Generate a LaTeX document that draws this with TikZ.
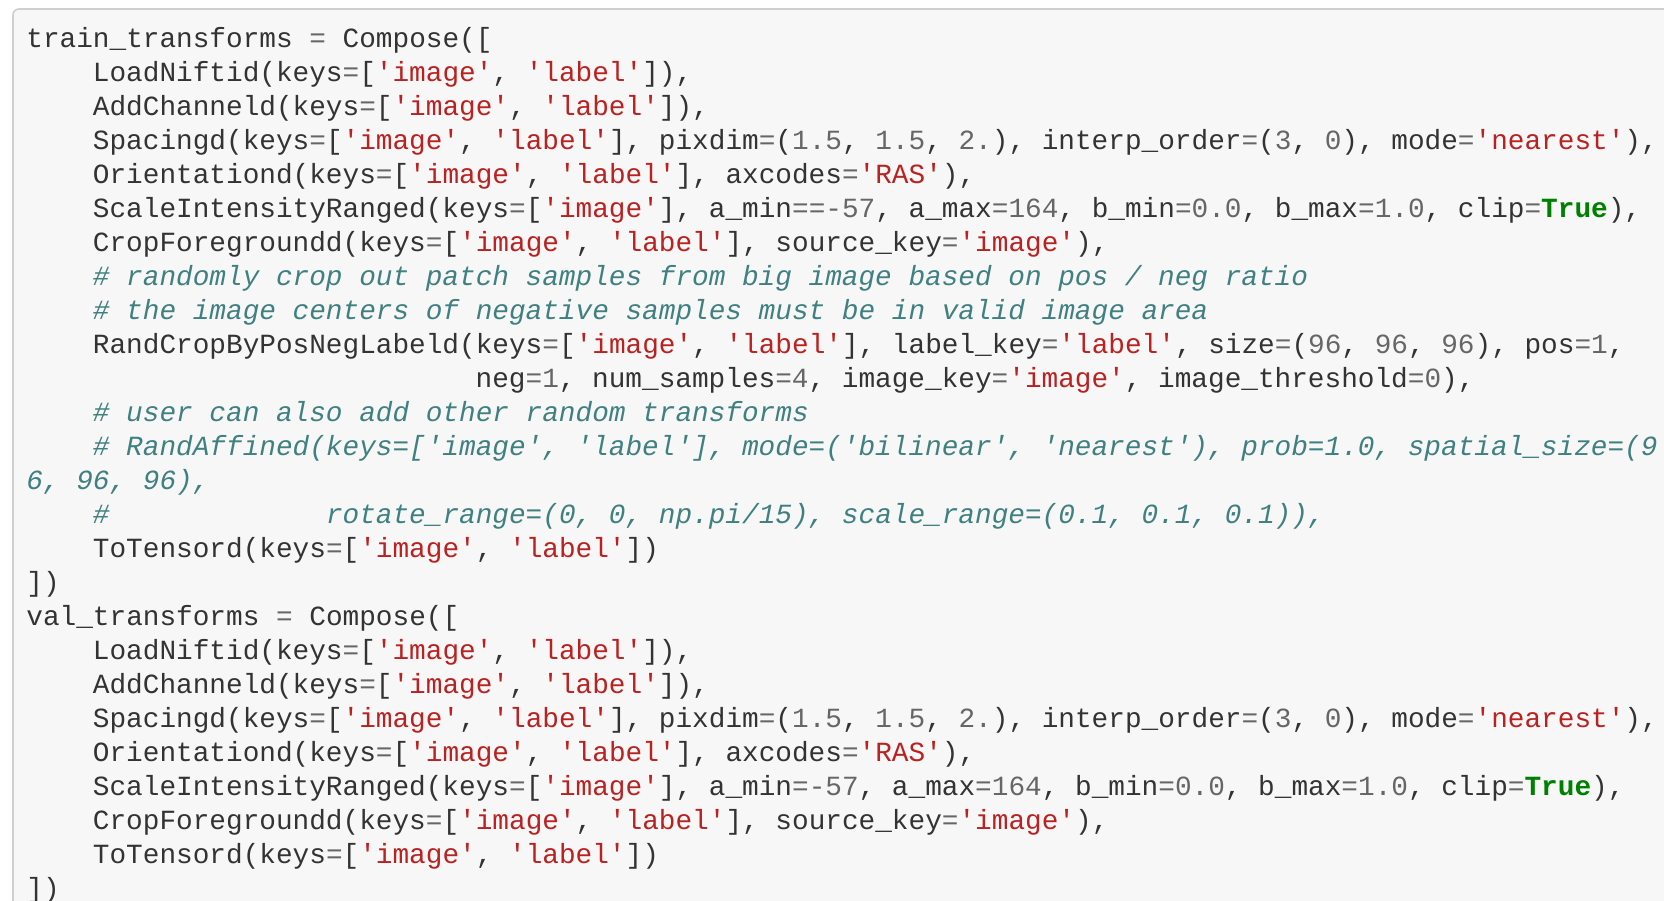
\documentclass[tikz,border=0pt]{standalone}
\usepackage{fontspec}
\setmonofont{Liberation Mono}
\definecolor{bgc}{HTML}{F7F7F7}
\definecolor{brd}{HTML}{CFCFCF}
\definecolor{txt}{HTML}{333333}
\definecolor{str}{HTML}{BA2121}
\definecolor{num}{HTML}{666666}
\definecolor{cmt}{HTML}{408080}
\definecolor{kw}{HTML}{008000}
\newcommand\Sx[1]{\textcolor{str}{#1}}
\newcommand\Nx[1]{\textcolor{num}{#1}}
\newcommand\Eq{\textcolor{num}{=}}
\newcommand\Cm[1]{\textcolor{cmt}{\itshape #1}}
\newcommand\Tr{\textcolor{kw}{\bfseries True}}
\newcommand\IL{\Sx{'image'}, \Sx{'label'}}
\begin{document}
\begin{tikzpicture}[x=1pt,y=1pt,
  code/.style={anchor=base west,inner sep=0pt,text=txt,font=\ttfamily\fontsize{13.87}{17}\selectfont}]
\useasboundingbox (0,0) rectangle (832,-450);
\clip (0,0) rectangle (832,-450);
\fill[white] (0,0) rectangle (832,-450);
\draw[brd,fill=bgc,rounded corners=3pt,line width=0.8pt] (6.5,-4.5) rectangle (850,-470);
\def\cw{8.32}
\newcommand\Ln[4]{\node[code] (#1) at ({13+#2*\cw},{-23.5-17*#3}) {#4};}
\Ln{l0}{0}{0}{train\_transforms \Eq{} Compose([}
\Ln{l1}{4}{1}{LoadNiftid(keys\Eq[\IL]),}
\Ln{l2}{4}{2}{AddChanneld(keys\Eq[\IL]),}
\Ln{l3}{4}{3}{Spacingd(keys\Eq[\IL], pixdim\Eq(\Nx{1.5}, \Nx{1.5}, \Nx{2.}), interp\_order\Eq(\Nx{3}, \Nx{0}), mode\Eq\Sx{'nearest'}),}
\Ln{l4}{4}{4}{Orientationd(keys\Eq[\IL], axcodes\Eq\Sx{'RAS'}),}
\Ln{l5}{4}{5}{ScaleIntensityRanged(keys\Eq[\Sx{'image'}], a\_min\Eq\Eq{}\Nx{-57}, a\_max\Eq\Nx{164}, b\_min\Eq\Nx{0.0}, b\_max\Eq\Nx{1.0}, clip\Eq\Tr),}
\Ln{l6}{4}{6}{CropForegroundd(keys\Eq[\IL], source\_key\Eq\Sx{'image'}),}
\Ln{l7}{4}{7}{\Cm{\# randomly crop out patch samples from big image based on pos / neg ratio}}
\Ln{l8}{4}{8}{\Cm{\# the image centers of negative samples must be in valid image area}}
\Ln{l9}{4}{9}{RandCropByPosNegLabeld(keys\Eq[\IL], label\_key\Eq\Sx{'label'}, size\Eq(\Nx{96}, \Nx{96}, \Nx{96}), pos\Eq\Nx{1},}
\Ln{l10}{27}{10}{neg\Eq\Nx{1}, num\_samples\Eq\Nx{4}, image\_key\Eq\Sx{'image'}, image\_threshold\Eq\Nx{0}),}
\Ln{l11}{4}{11}{\Cm{\# user can also add other random transforms}}
\Ln{l12}{4}{12}{\Cm{\# RandAffined(keys=['image', 'label'], mode=('bilinear', 'nearest'), prob=1.0, spatial\_size=(9}}
\Ln{l13}{0}{13}{\Cm{6, 96, 96),}}
\Ln{l14}{4}{14}{\Cm{\#~~~~~~~~~~~~~rotate\_range=(0, 0, np.pi/15), scale\_range=(0.1, 0.1, 0.1)),}}
\Ln{l15}{4}{15}{ToTensord(keys\Eq[\IL])}
\Ln{l16}{0}{16}{])}
\Ln{l17}{0}{17}{val\_transforms \Eq{} Compose([}
\Ln{l18}{4}{18}{LoadNiftid(keys\Eq[\IL]),}
\Ln{l19}{4}{19}{AddChanneld(keys\Eq[\IL]),}
\Ln{l20}{4}{20}{Spacingd(keys\Eq[\IL], pixdim\Eq(\Nx{1.5}, \Nx{1.5}, \Nx{2.}), interp\_order\Eq(\Nx{3}, \Nx{0}), mode\Eq\Sx{'nearest'}),}
\Ln{l21}{4}{21}{Orientationd(keys\Eq[\IL], axcodes\Eq\Sx{'RAS'}),}
\Ln{l22}{4}{22}{ScaleIntensityRanged(keys\Eq[\Sx{'image'}], a\_min\Eq\Nx{-57}, a\_max\Eq\Nx{164}, b\_min\Eq\Nx{0.0}, b\_max\Eq\Nx{1.0}, clip\Eq\Tr),}
\Ln{l23}{4}{23}{CropForegroundd(keys\Eq[\IL], source\_key\Eq\Sx{'image'}),}
\Ln{l24}{4}{24}{ToTensord(keys\Eq[\IL])}
\Ln{l25}{0}{25}{])}
\end{tikzpicture}
\end{document}
